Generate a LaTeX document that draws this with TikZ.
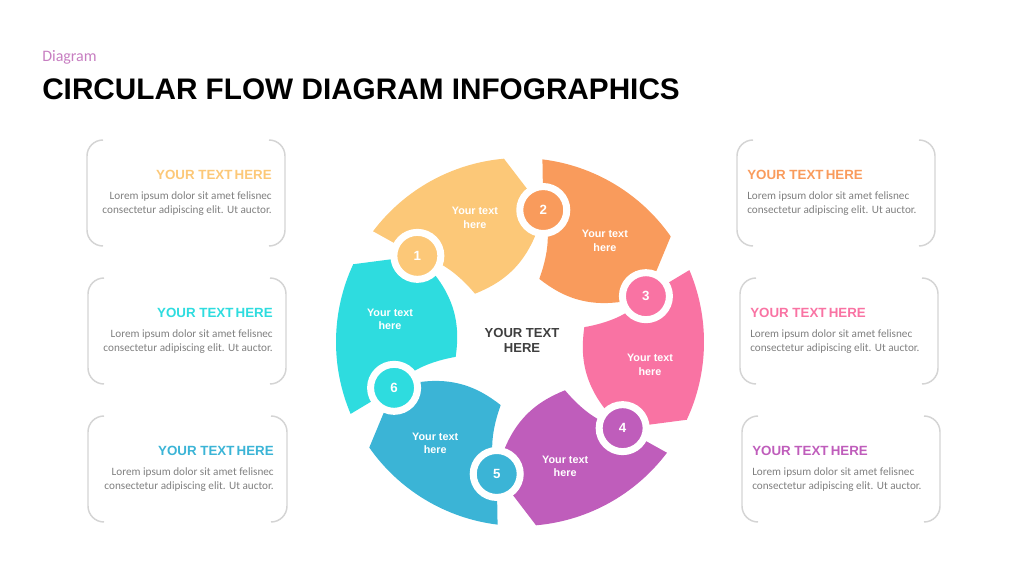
\documentclass[tikz,border=0pt]{standalone}
\usepackage{fontspec}
\setmainfont{Liberation Sans}
\newfontfamily\bodyfont{Carlito}
\definecolor{segyellow}{HTML}{FCC878}
\definecolor{segorange}{HTML}{F99B5C}
\definecolor{segpink}{HTML}{F973A3}
\definecolor{segpurple}{HTML}{BF5DBB}
\definecolor{segblue}{HTML}{3BB4D6}
\definecolor{segcyan}{HTML}{2EDCDF}
\definecolor{bodygray}{HTML}{7F7F7F}
\definecolor{framegray}{HTML}{D4D4D4}
\definecolor{tagpurple}{HTML}{C77EC1}
\definecolor{hubgray}{HTML}{3F3F3F}

\begin{document}
\begin{tikzpicture}[x=0.75pt,y=0.75pt,
  piecetext/.style={text=white,font=\bfseries\fontsize{8.1}{10}\selectfont,align=center},
  badge/.style={circle,minimum size=35.25pt,inner sep=0pt,draw=white,line width=5.25pt,
    text=white,font=\bfseries\fontsize{10}{12}\selectfont},
  bracketline/.style={draw=framegray,line width=1.1pt},
  headtext/.style={inner sep=0pt,font=\bfseries\fontsize{10}{12}\selectfont},
  bodytext/.style={inner sep=0pt,text=bodygray,font=\bodyfont\fontsize{8.4}{10.5}\selectfont}]

\useasboundingbox (0,0) rectangle (1024,576);

% Header
\node[anchor=base west,inner sep=0pt,text=tagpurple,font=\bodyfont\fontsize{12}{14}\selectfont] (tag) at (42,514) {Diagram};
\node[anchor=base west,inner sep=0pt,font=\bfseries\fontsize{22.3}{26}\selectfont] (title) at (42,476) {CIRCULAR FLOW DIAGRAM INFOGRAPHICS};

% Draw the six pieces of the wheel
\foreach \k/\col in {1/segyellow,2/segorange,3/segpink,4/segpurple,5/segblue,6/segcyan}{
  \pgfmathsetmacro\b{200-60*\k}
  \begin{scope}[shift={(520,234)},rotate=\b]
    \fill[\col] (3:184) arc[start angle=3,end angle=-45,radius=184] -- (-60:134)
      .. controls (-58:80) and (-35:62) .. (-7:66)
      .. controls (-8:100) and (-4:120) .. (0:134) -- cycle;
  \end{scope}
}

% Numbered badges and piece labels
\foreach \k/\col in {1/segyellow,2/segorange,3/segpink,4/segpurple,5/segblue,6/segcyan}{
  \pgfmathsetmacro\b{200-60*\k}
  \begin{scope}[shift={(520,234)},rotate=\b]
    \node[badge,fill=\col] (c\k) at (0:134) {\k};
    \node[piecetext] (t\k) at (-30:132) {Your text\\here};
  \end{scope}
}

% Centre text
\node[align=center,text=hubgray,font=\bfseries\fontsize{9.8}{11.25}\selectfont] (hub) at (522,236) {YOUR TEXT\\HERE};

% Left text boxes
\foreach \xa/\xb/\yt/\col [count=\i] in {87/285/436/segyellow,88/286/298/segcyan,88/287/160/segblue}{
  \draw[bracketline] (\xa+16,\yt) arc[start angle=90,end angle=180,radius=16] -- (\xa,\yt-90) arc[start angle=180,end angle=270,radius=16];
  \draw[bracketline] (\xb-16,\yt) arc[start angle=90,end angle=0,radius=16] -- (\xb,\yt-90) arc[start angle=0,end angle=-90,radius=16];
  \node[headtext,text=\col,anchor=east] (lhead\i) at (\xb-13,\yt-35) {YOUR TEXT\,HERE};
  \node[bodytext,align=right,anchor=east] (lbody\i) at (\xb-13,\yt-64) {Lorem ipsum dolor sit amet felisnec\\consectetur adipiscing elit. Ut auctor.};
}

% Right text boxes
\foreach \xa/\xb/\yt/\col [count=\i] in {737/935/436/segorange,740/938/298/segpink,742/940/160/segpurple}{
  \draw[bracketline] (\xa+16,\yt) arc[start angle=90,end angle=180,radius=16] -- (\xa,\yt-90) arc[start angle=180,end angle=270,radius=16];
  \draw[bracketline] (\xb-16,\yt) arc[start angle=90,end angle=0,radius=16] -- (\xb,\yt-90) arc[start angle=0,end angle=-90,radius=16];
  \node[headtext,text=\col,anchor=west] (rhead\i) at (\xa+10,\yt-35) {YOUR TEXT\,HERE};
  \node[bodytext,align=left,anchor=west] (rbody\i) at (\xa+10,\yt-64) {Lorem ipsum dolor sit amet felisnec\\consectetur adipiscing elit. Ut auctor.};
}

\end{tikzpicture}
\end{document}
